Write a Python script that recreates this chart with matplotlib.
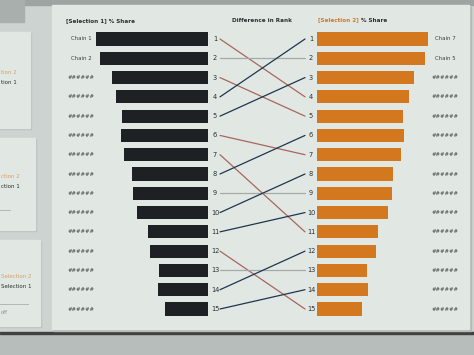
import matplotlib
matplotlib.use("Agg")
import matplotlib.pyplot as plt
from matplotlib.patches import Rectangle

# values (bar lengths, arbitrary share units)
ranks = list(range(1, 16))
left_labels = ["Chain 1", "Chain 2"] + ["######"] * 13
left_share = [112, 108, 96, 92, 86, 87, 84, 76, 75, 71, 60, 58, 49, 50, 43]
right_labels = ["Chain 7", "Chain 5"] + ["######"] * 13
right_share = [111, 108, 97, 92, 86, 87, 84, 76, 75, 71, 61, 59, 50, 51, 45]
# rank in selection 1 -> rank in selection 2
new_rank = [4, 2, 5, 1, 3, 7, 11, 6, 9, 8, 10, 15, 13, 12, 14]

W, H = 474, 355
BG = "#cdd3d0"
PANEL = "#e1e7e3"
DARK = "#1d2124"
ORANGE = "#d4781f"
UP = "#1e3650"
DOWN = "#a8675e"
SAME = "#a3abaa"
TXT = "#2b2f31"

fig = plt.figure(figsize=(W / 100, H / 100), dpi=100)
fig.patch.set_facecolor(BG)


def px_rect(x0, y0, x1, y1, **kw):
    # rectangle in pixel coords (origin top left)
    fig.patches.append(Rectangle((x0 / W, 1 - y1 / H), (x1 - x0) / W, (y1 - y0) / H,
                                 transform=fig.transFigure, zorder=-5, **kw))


def px_text(x, y, s, **kw):
    return fig.text(x / W, 1 - y / H, s, **kw)


# screen surroundings
px_rect(0, 0, W, 5, color="#9ea4a2")
px_rect(0, 0, 24, 22, color="#a9afad")
px_rect(0, 334, W, H, color="#b7bdbb")
px_rect(0, 332, W, 334, color="#3d4241")
# side cards (cut off by the photo)
for (x1, y0, y1) in [(30, 32, 128), (35, 138, 230), (40, 240, 326)]:
    px_rect(-2, y0 + 1, x1 + 1, y1 + 1, color="#b9bfbc")
    px_rect(-2, y0, x1, y1, color=PANEL)
px_text(1, 72, "tion 2", color="#d9a060", fontsize=4, va="center")
px_text(1, 82, "tion 1", color=TXT, fontsize=4, va="center")
px_text(1, 177, "ction 2", color="#d9a060", fontsize=4, va="center")
px_text(1, 187, "ction 1", color=TXT, fontsize=4, va="center")
px_text(1, 277, "Selection 2", color="#d9a060", fontsize=4, va="center")
px_text(1, 286, "Selection 1", color=TXT, fontsize=4, va="center")
fig.lines.append(plt.Line2D([0, 10 / W], [1 - 210 / H] * 2, color="#aab0ae", lw=0.6,
                            transform=fig.transFigure))
fig.lines.append(plt.Line2D([0, 28 / W], [1 - 304 / H] * 2, color="#aab0ae", lw=0.6,
                            transform=fig.transFigure))
px_text(1, 313, "off", color="#8a908e", fontsize=3.8, va="center")

# main panel
px_rect(53, 7, 471, 331, color="#b3b9b6")
px_rect(52, 5, 469, 329, color=PANEL)

# axes geometry: rank 1 at y=39px, rank 15 at y=309px
step = (309 - 39) / 14
top = 39 - step / 2
bot = 309 + step / 2
ab = 1 - bot / H
ah = (bot - top) / H

axl = fig.add_axes([90 / W, ab, 118 / W, ah])
axm = fig.add_axes([208 / W, ab, 110 / W, ah])
axr = fig.add_axes([317 / W, ab, 118 / W, ah])
for ax in (axl, axm, axr):
    ax.set_facecolor("none")
    ax.set_ylim(15.5, 0.5)
    ax.axis("off")

axl.barh(ranks, left_share, height=0.68, color=DARK)
axl.set_xlim(118, 0)
axr.barh(ranks, right_share, height=0.68, color=ORANGE)
axr.set_xlim(0, 118)

axm.set_xlim(0, 110)
for r, nr in zip(ranks, new_rank):
    c = UP if nr < r else DOWN if nr > r else SAME
    axm.plot([12, 97], [r, nr], color=c, lw=0.9, solid_capstyle="round")
    axm.text(7, r, str(r), ha="center", va="center", fontsize=4.8, color=TXT)
    axm.text(103, r, str(r), ha="center", va="center", fontsize=4.8, color=TXT)

for r, lab in zip(ranks, left_labels):
    axl.text(127, r, lab, ha="center", va="center", fontsize=3.9, color="#3a3f42",
             clip_on=False)
for r, lab in zip(ranks, right_labels):
    axr.text(128, r, lab, ha="center", va="center", fontsize=3.9, color="#3a3f42",
             clip_on=False)

px_text(66, 21, "[Selection 1] % Share", fontsize=4.1, color=TXT, va="center",
        weight="bold")
px_text(262, 20, "Difference in Rank", fontsize=4.1, color=TXT, va="center",
        ha="center", weight="bold")
t = px_text(318, 20, "[Selection 2]", fontsize=4.1, color=ORANGE, va="center",
            weight="bold")
fig.canvas.draw()
ext = t.get_window_extent()
fig.text(ext.x1 / W, 1 - 20 / H, " % Share", fontsize=4.1, color=TXT, va="center",
         weight="bold")

fig.savefig("out.png", dpi=100, facecolor=fig.get_facecolor())
